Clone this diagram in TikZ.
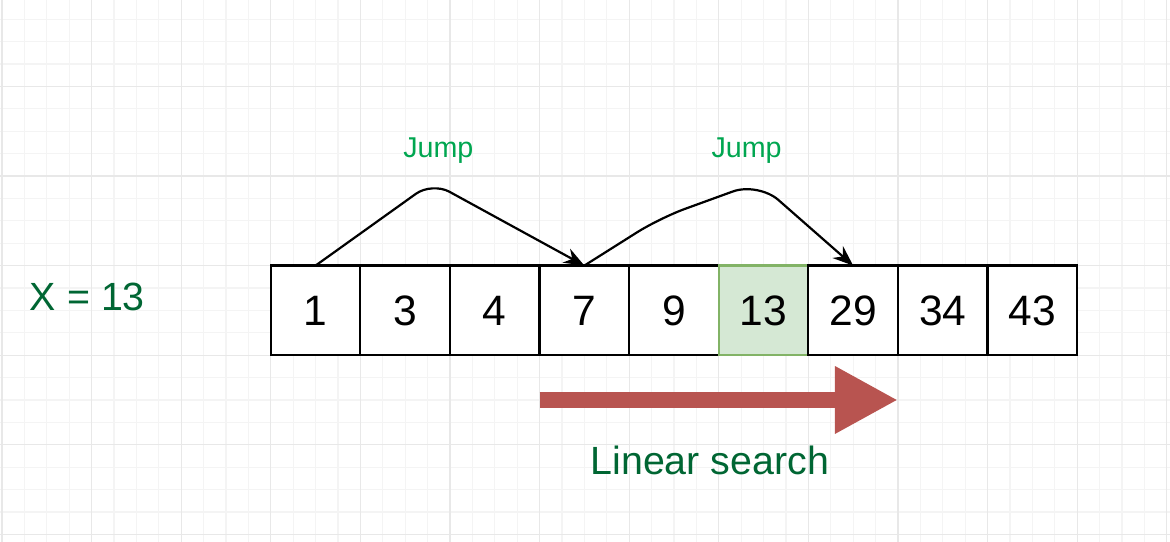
\documentclass[tikz,border=0pt]{standalone}
\usepackage{fontspec}
\setmainfont{Liberation Sans}
\usepackage{xcolor}
\usepackage{tikz}
\usetikzlibrary{arrows.meta,positioning}
\definecolor{gridmajor}{HTML}{E8E8E8}
\definecolor{gridminor}{HTML}{F4F4F4}
\definecolor{jumpgreen}{HTML}{00A650}
\definecolor{labelgreen}{HTML}{006633}
\definecolor{hitfill}{HTML}{D5E8D4}
\definecolor{hitdraw}{HTML}{82B366}
\definecolor{searchred}{HTML}{B85450}
\tikzset{
  cell/.style={rectangle,draw=black,fill=white,line width=0.7pt,outer sep=0pt,inner sep=0pt,minimum width=1cm,minimum height=1cm,font=\fontsize{13.5pt}{16pt}\selectfont},
  hitcell/.style={cell,draw=hitdraw,fill=hitfill},
  jumplabel/.style={anchor=base,text=jumpgreen,font=\fontsize{9.1pt}{11pt}\selectfont},
  biglabel/.style={anchor=base,text=labelgreen,font=\fontsize{12.5pt}{15pt}\selectfont},
  jumpedge/.style={-{Stealth[length=6.5pt,width=5pt]},line width=0.7pt,draw=black},
  searcharrow/.style={-{Triangle[length=20pt,width=20pt]},line width=5pt,draw=searchred}
}

\begin{document}
\begin{tikzpicture}[node distance=0pt]
\useasboundingbox (-0.022,-0.074) rectangle (13.036,5.964);
\begin{scope}
\clip (-0.022,-0.074) rectangle (13.036,5.964);
\draw[gridminor,line width=0.35pt,step=0.25] (-0.25,-0.25) grid (13.25,6.25);
\draw[gridmajor,line width=0.35pt,step=1] (-1,-1) grid (14,7);
\end{scope}
% array cells
\node[cell] (n1) at (3.5,2.5) {1};
\node[cell,right=of n1] (n3) {3};
\node[cell,right=of n3] (n4) {4};
\node[cell,right=of n4] (n7) {7};
\node[cell,right=of n7] (n9) {9};
\node[hitcell,right=of n9] (n13) {13};
\node[cell,right=of n13] (n29) {29};
\node[cell,right=of n29] (n34) {34};
\node[cell,right=of n34] (n43) {43};
\node[biglabel] (xval) at (0.954,2.5) {X = 13};
% jumps
\coordinate (peakA) at (4.8,3.93);
\coordinate (bendB) at (7.34,3.53);
\coordinate (peakB) at (8.44,3.93);
\node[jumplabel] (jumpA) at (4.87,4.21) {Jump};
\node[jumplabel] (jumpB) at (8.31,4.21) {Jump};
\draw[jumpedge,rounded corners=0.22cm] (n1.north) -- (peakA) -- (n7.north);
\draw[jumpedge,rounded corners=0.3cm] (n7.north) -- (bendB) -- (peakB) -- (n29.north);
% linear search
\coordinate (lsstart) at (6,1.5);
\coordinate (lsend) at (10,1.5);
\draw[searcharrow] (lsstart) -- (lsend);
\node[biglabel] (lslabel) at (7.9,0.663) {Linear search};
\end{tikzpicture}
\end{document}
